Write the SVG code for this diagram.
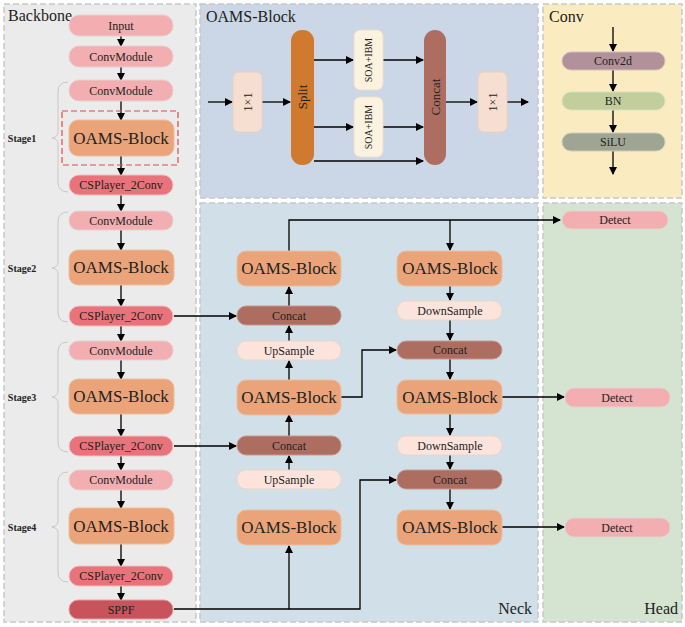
<svg xmlns="http://www.w3.org/2000/svg" width="685" height="627" viewBox="0 0 685 627">
<defs>
<marker id="ah" markerWidth="8" markerHeight="8" refX="7" refY="4" orient="auto" markerUnits="userSpaceOnUse"><path d="M0,0 L8,4 L0,8 z" fill="#000"/></marker>
<style>
text{font-family:"Liberation Serif",serif;text-anchor:middle;dominant-baseline:central;fill:#222}
.panel{stroke:#c8c8c8;stroke-width:1.5;stroke-dasharray:6 3}
.pl{font-size:16px;text-anchor:start}
.s{font-size:12px}
.b{font-size:17px}
.st{font-size:10px;font-weight:bold}
.c line,.c path,.c polyline{stroke:#000;stroke-width:1.3;fill:none;marker-end:url(#ah)}
.cm{fill:#f2aeb0;stroke:#e6d0d0}
.ob{fill:#eba479;stroke:#e8c0a0}
.csp{fill:#e8737a;stroke:#eec0c0}
.cc{fill:#ad6d60;stroke:#c89a90}
.sm{fill:#fce4dc;stroke:#eed4cc}
</style>
</defs>
<rect x="4" y="4" width="192" height="618" fill="#ebebeb" class="panel"/>
<rect x="200" y="4" width="338" height="194" fill="#cbd6e6" class="panel"/>
<rect x="543" y="4" width="139" height="194" fill="#faecc0" class="panel"/>
<rect x="200" y="203" width="338" height="419" fill="#d0dfe8" class="panel"/>
<rect x="543" y="203" width="139" height="419" fill="#d5e3d1" class="panel"/>
<text x="8" y="15" class="pl">Backbone</text>
<text x="206" y="16" class="pl">OAMS-Block</text>
<text x="549" y="16" class="pl">Conv</text>
<text x="532" y="608" class="pl" style="text-anchor:end">Neck</text>
<text x="678" y="608" class="pl" style="text-anchor:end">Head</text>
<g id="braces" fill="none" stroke="#c8c8c8" stroke-width="1">
<path d="M68,82 Q58,82 58,92 L58,132 Q58,137 52,138 Q58,139 58,144 L58,182 Q58,192 68,192"/>
<path d="M68,212 Q58,212 58,222 L58,262 Q58,267 52,268 Q58,269 58,274 L58,312 Q58,322 68,322"/>
<path d="M68,342 Q58,342 58,352 L58,391 Q58,396 52,397 Q58,398 58,403 L58,442 Q58,452 68,452"/>
<path d="M68,472 Q58,472 58,482 L58,521 Q58,526 52,527 Q58,528 58,533 L58,572 Q58,582 68,582"/>
</g>
<text x="22" y="138" class="st">Stage1</text>
<text x="22" y="268" class="st">Stage2</text>
<text x="22" y="397" class="st">Stage3</text>
<text x="22" y="527" class="st">Stage4</text>
<g class="c">
<line x1="121" y1="36" x2="121" y2="46"/>
<line x1="121" y1="67" x2="121" y2="80"/>
<line x1="121" y1="101" x2="121" y2="120"/>
<line x1="121" y1="155" x2="121" y2="175"/>
<line x1="121" y1="195" x2="121" y2="211"/>
<line x1="121" y1="229" x2="121" y2="250"/>
<line x1="121" y1="285" x2="121" y2="306"/>
<line x1="121" y1="326" x2="121" y2="341"/>
<line x1="121" y1="360" x2="121" y2="379"/>
<line x1="121" y1="414" x2="121" y2="436"/>
<line x1="121" y1="456" x2="121" y2="470"/>
<line x1="121" y1="490" x2="121" y2="508"/>
<line x1="121" y1="544" x2="121" y2="566"/>
<line x1="121" y1="586" x2="121" y2="600"/>
<line x1="174" y1="316" x2="236" y2="316"/>
<line x1="174" y1="446" x2="236" y2="446"/>
<line x1="289" y1="306" x2="289" y2="287"/>
<line x1="289" y1="341" x2="289" y2="326"/>
<line x1="289" y1="380" x2="289" y2="361"/>
<line x1="289" y1="436" x2="289" y2="415"/>
<line x1="289" y1="470" x2="289" y2="456"/>
<polyline points="289,251 289,220 560,220"/>
<line x1="450" y1="220" x2="450" y2="250"/>
<line x1="450" y1="286" x2="450" y2="300"/>
<line x1="450" y1="320" x2="450" y2="340"/>
<line x1="450" y1="359" x2="450" y2="379"/>
<line x1="450" y1="414" x2="450" y2="435"/>
<line x1="450" y1="455" x2="450" y2="469"/>
<line x1="450" y1="489" x2="450" y2="509"/>
<polyline points="341,397 362,397 362,350 396,350"/>
<polyline points="174,609 289,609 289,546"/>
<polyline points="289,609 360,609 360,480 396,480"/>
<line x1="502" y1="397" x2="564" y2="397"/>
<line x1="502" y1="527" x2="564" y2="527"/>
<line x1="208" y1="102" x2="232" y2="102"/>
<line x1="262" y1="102" x2="290" y2="102"/>
<line x1="314" y1="60" x2="353" y2="60"/>
<line x1="383" y1="60" x2="423" y2="60"/>
<line x1="314" y1="127" x2="353" y2="127"/>
<line x1="383" y1="127" x2="423" y2="127"/>
<line x1="314" y1="161" x2="423" y2="161"/>
<line x1="446" y1="102" x2="477" y2="102"/>
<line x1="507" y1="102" x2="528" y2="102"/>
<line x1="613" y1="27" x2="613" y2="51"/>
<line x1="613" y1="70" x2="613" y2="91"/>
<line x1="613" y1="110" x2="613" y2="132"/>
<line x1="613" y1="151" x2="613" y2="174"/>
</g>
<g id="bb-input"><rect x="69" y="15" width="104" height="21" rx="10" class="cm"/><text x="121" y="25.5" class="s">Input</text></g>
<g id="bb-cm0"><rect x="69" y="46" width="104" height="21" rx="10" class="cm"/><text x="121" y="56.5" class="s">ConvModule</text></g>
<g id="bb-cm1"><rect x="69" y="80" width="104" height="21" rx="10" class="cm"/><text x="121" y="90.5" class="s">ConvModule</text></g>
<rect x="62" y="111" width="116" height="54" fill="none" stroke="#e0484e" stroke-width="1.2" stroke-dasharray="6 3"/>
<g id="bb-ob1"><rect x="69" y="120" width="105" height="36" rx="9" class="ob"/><text x="121" y="138" class="b">OAMS-Block</text></g>
<g id="bb-csp1"><rect x="69" y="175" width="104" height="20" rx="10" class="csp"/><text x="121" y="185" class="s">CSPlayer_2Conv</text></g>
<g id="bb-cm2"><rect x="69" y="211" width="104" height="19" rx="9" class="cm"/><text x="121" y="220.5" class="s">ConvModule</text></g>
<g id="bb-ob2"><rect x="69" y="250" width="105" height="35" rx="9" class="ob"/><text x="121" y="267.5" class="b">OAMS-Block</text></g>
<g id="bb-csp2"><rect x="69" y="306" width="104" height="20" rx="10" class="csp"/><text x="121" y="316" class="s">CSPlayer_2Conv</text></g>
<g id="bb-cm3"><rect x="69" y="341" width="104" height="19" rx="9" class="cm"/><text x="121" y="350.5" class="s">ConvModule</text></g>
<g id="bb-ob3"><rect x="69" y="379" width="105" height="35" rx="9" class="ob"/><text x="121" y="396.5" class="b">OAMS-Block</text></g>
<g id="bb-csp3"><rect x="69" y="436" width="104" height="20" rx="10" class="csp"/><text x="121" y="446" class="s">CSPlayer_2Conv</text></g>
<g id="bb-cm4"><rect x="69" y="470" width="104" height="20" rx="10" class="cm"/><text x="121" y="480" class="s">ConvModule</text></g>
<g id="bb-ob4"><rect x="69" y="508" width="105" height="36" rx="9" class="ob"/><text x="121" y="526" class="b">OAMS-Block</text></g>
<g id="bb-csp4"><rect x="69" y="566" width="104" height="20" rx="10" class="csp"/><text x="121" y="576" class="s">CSPlayer_2Conv</text></g>
<g id="bb-sppf"><rect x="69" y="600" width="104" height="19" rx="9" fill="#c9535c" stroke="#e0a0a0"/><text x="121" y="609.5" class="s">SPPF</text></g>
<g id="nl-ob1"><rect x="237" y="251" width="104" height="35" rx="9" class="ob"/><text x="289" y="268.5" class="b">OAMS-Block</text></g>
<g id="nl-cc1"><rect x="237" y="306" width="104" height="19" rx="9" class="cc"/><text x="289" y="315.5" class="s">Concat</text></g>
<g id="nl-up1"><rect x="237" y="341" width="104" height="19" rx="9" class="sm"/><text x="289" y="350.5" class="s">UpSample</text></g>
<g id="nl-ob2"><rect x="237" y="380" width="104" height="35" rx="9" class="ob"/><text x="289" y="397.5" class="b">OAMS-Block</text></g>
<g id="nl-cc2"><rect x="237" y="436" width="104" height="19" rx="9" class="cc"/><text x="289" y="445.5" class="s">Concat</text></g>
<g id="nl-up2"><rect x="237" y="470" width="104" height="19" rx="9" class="sm"/><text x="289" y="479.5" class="s">UpSample</text></g>
<g id="nl-ob3"><rect x="237" y="510" width="104" height="35" rx="9" class="ob"/><text x="289" y="527.5" class="b">OAMS-Block</text></g>
<g id="nr-ob1"><rect x="397" y="251" width="105" height="35" rx="9" class="ob"/><text x="450" y="268.5" class="b">OAMS-Block</text></g>
<g id="nr-ds1"><rect x="397" y="301" width="105" height="19" rx="9" class="sm"/><text x="450" y="310.5" class="s">DownSample</text></g>
<g id="nr-cc1"><rect x="397" y="341" width="105" height="18" rx="9" class="cc"/><text x="450" y="350" class="s">Concat</text></g>
<g id="nr-ob2"><rect x="397" y="380" width="105" height="34" rx="9" class="ob"/><text x="450" y="397" class="b">OAMS-Block</text></g>
<g id="nr-ds2"><rect x="397" y="436" width="105" height="19" rx="9" class="sm"/><text x="450" y="445.5" class="s">DownSample</text></g>
<g id="nr-cc2"><rect x="397" y="470" width="105" height="19" rx="9" class="cc"/><text x="450" y="479.5" class="s">Concat</text></g>
<g id="nr-ob3"><rect x="397" y="510" width="105" height="35" rx="9" class="ob"/><text x="450" y="527.5" class="b">OAMS-Block</text></g>
<g id="det1"><rect x="562" y="211" width="106" height="18" rx="9" class="cm"/><text x="615" y="220" class="s">Detect</text></g>
<g id="det2"><rect x="565" y="388" width="105" height="19" rx="9" class="cm"/><text x="617" y="397.5" class="s">Detect</text></g>
<g id="det3"><rect x="565" y="518" width="105" height="19" rx="9" class="cm"/><text x="617" y="527.5" class="s">Detect</text></g>
<g id="ob-1x1a"><rect x="233" y="72" width="29" height="60" rx="6" fill="#f6dfd0" stroke="#ecd0c0"/><text x="247.5" y="102" class="s" transform="rotate(-90 247.5 102)">1×1</text></g>
<g id="ob-split"><rect x="291" y="30" width="23" height="135" rx="11" fill="#d07a2f"/><text x="302.5" y="97" class="s" style="font-size:13px" transform="rotate(-90 302.5 97)">Split</text></g>
<g id="ob-soa1"><rect x="354" y="30" width="29" height="60" rx="6" fill="#fbf2df" stroke="#ece0c8"/><text x="368.5" y="60" style="font-size:10px" transform="rotate(-90 368.5 60)">SOA+IBM</text></g>
<g id="ob-soa2"><rect x="354" y="97" width="29" height="60" rx="6" fill="#fbf2df" stroke="#ece0c8"/><text x="368.5" y="127" style="font-size:10px" transform="rotate(-90 368.5 127)">SOA+IBM</text></g>
<g id="ob-concat"><rect x="424" y="30" width="22" height="135" rx="11" fill="#ad6d60"/><text x="435" y="97" class="s" style="font-size:13px" transform="rotate(-90 435 97)">Concat</text></g>
<g id="ob-1x1b"><rect x="478" y="72" width="29" height="60" rx="6" fill="#f6dfd0" stroke="#ecd0c0"/><text x="492.5" y="102" class="s" transform="rotate(-90 492.5 102)">1×1</text></g>
<g id="cv-conv2d"><rect x="562" y="52" width="103" height="18" rx="9" fill="#b39199" stroke="#d0c0c0"/><text x="613" y="61" class="s">Conv2d</text></g>
<g id="cv-bn"><rect x="562" y="92" width="103" height="18" rx="9" fill="#c2cf9d" stroke="#d8e0c0"/><text x="613" y="101" class="s">BN</text></g>
<g id="cv-silu"><rect x="562" y="133" width="103" height="18" rx="9" fill="#9fa593" stroke="#c8ccc0"/><text x="613" y="142" class="s">SiLU</text></g>
</svg>
